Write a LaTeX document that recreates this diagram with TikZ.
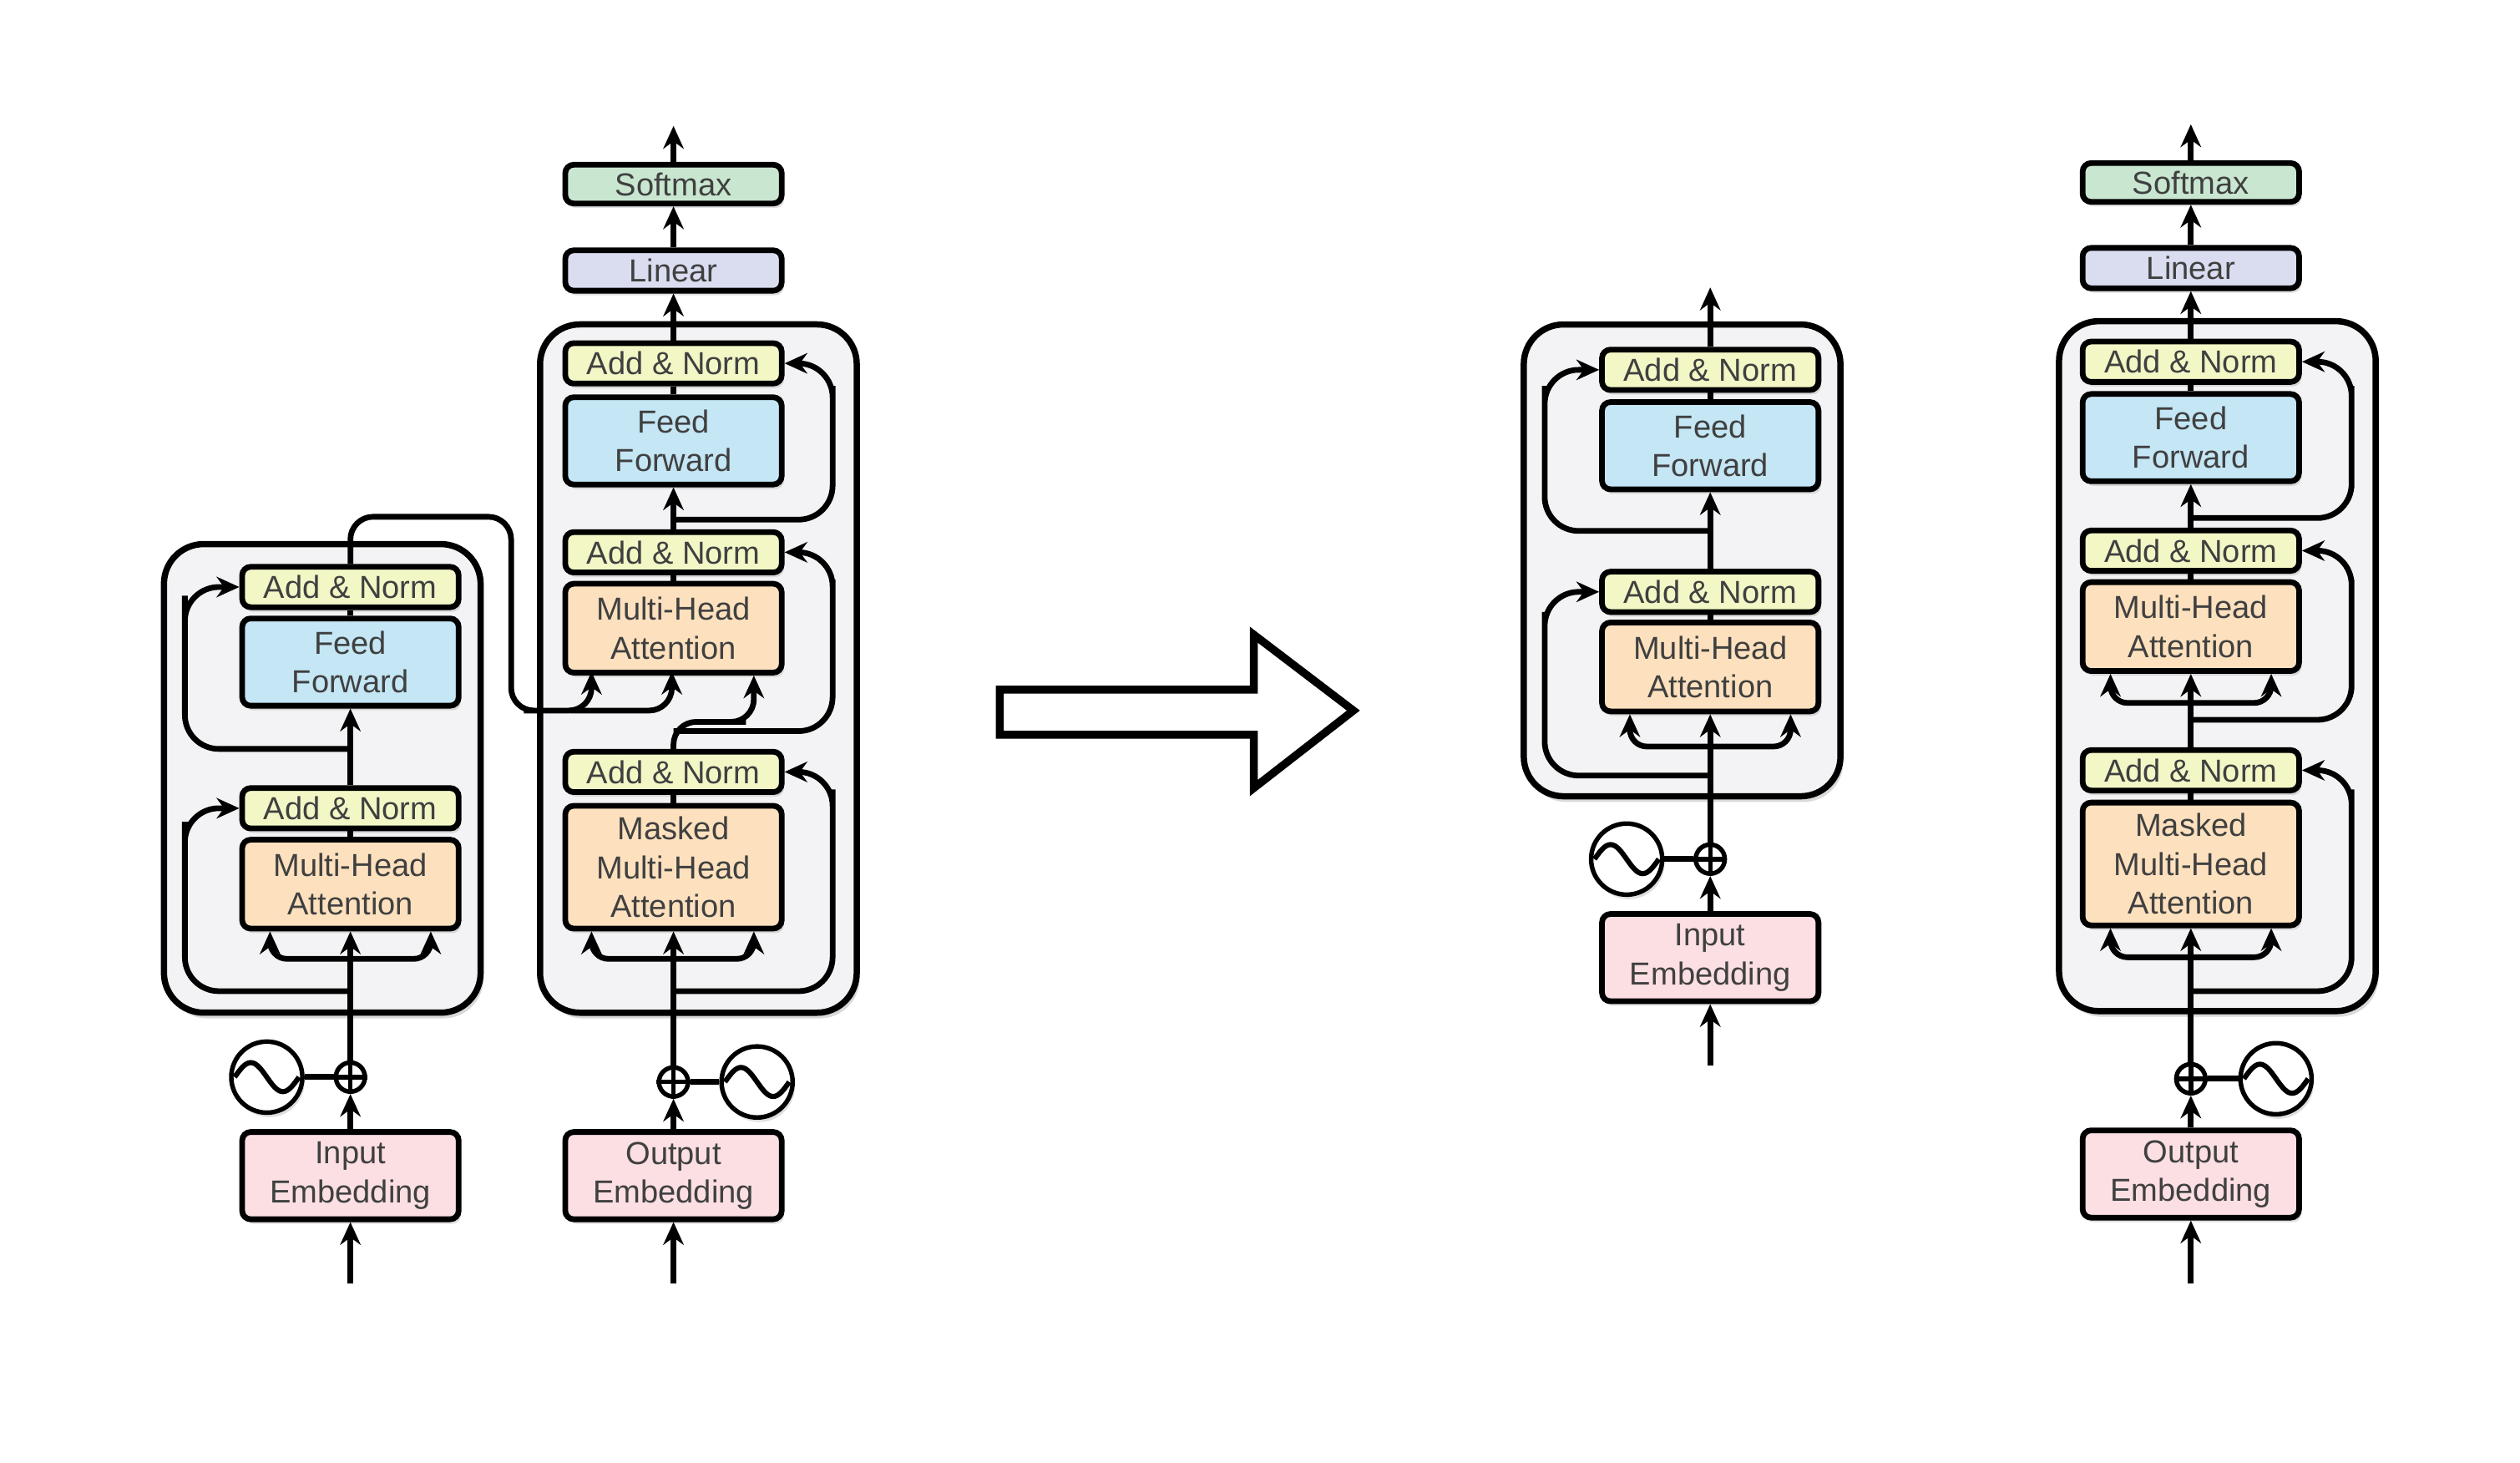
\documentclass[tikz,border=0pt]{standalone}
\usepackage{fontspec}
\setmainfont{Liberation Sans}
\usetikzlibrary{calc,positioning,shadows,arrows.meta}
\definecolor{addc}{HTML}{F3F7C6}
\definecolor{ffc}{HTML}{C4E6F5}
\definecolor{attc}{HTML}{FDE1BE}
\definecolor{embc}{HTML}{FBDFE3}
\definecolor{smc}{HTML}{C9E7D0}
\definecolor{linc}{HTML}{DADCF0}
\definecolor{stackc}{HTML}{F3F3F5}
\newcommand{\lbl}{\fontsize{5.6}{6.8}\selectfont}
\tikzset{
  blk/.style={draw, line width=1pt, rounded corners=1.5pt, minimum width=1.34cm,
    align=center, font=\lbl, text=black!75, inner sep=0pt,
    drop shadow={shadow xshift=0.4pt,shadow yshift=-0.8pt,opacity=0.25}},
  an/.style={blk, fill=addc, minimum height=0.25cm},
  ff/.style={blk, fill=ffc, minimum height=0.54cm},
  att/.style={blk, fill=attc, minimum height=0.55cm},
  matt/.style={blk, fill=attc, minimum height=0.76cm},
  emb/.style={blk, fill=embc, minimum height=0.54cm},
  soft/.style={blk, fill=smc, minimum height=0.24cm},
  lin/.style={blk, fill=linc, minimum height=0.25cm},
  stack/.style={draw, line width=1.1pt, rounded corners=7pt, fill=stackc,
    minimum width=1.96cm, drop shadow={shadow xshift=0.5pt,shadow yshift=-1pt,opacity=0.3}},
  plus/.style={circle, draw, line width=0.8pt, fill=white, minimum size=0.18cm, inner sep=0pt},
  wave/.style={circle, draw, line width=0.8pt, fill=white, minimum size=0.44cm, inner sep=0pt,
    drop shadow={shadow xshift=0.4pt,shadow yshift=-0.8pt,opacity=0.25}},
  arr/.style={line width=1pt, -{Stealth[length=4pt,width=3.6pt]}},
  ln/.style={line width=1pt},
}
\newcommand{\posenc}[2]{% plus node, wave node
  \draw[line width=0.8pt] (#1.north) -- (#1.south) (#1.west) -- (#1.east);
  \draw[line width=0.9pt] ($(#2.center)+(-20,0)$) sin ++(10,-9) cos ++(10,9) sin ++(10,9) cos ++(10,-9);
}
\begin{document}
\begin{tikzpicture}[x=0.00995cm, y=-0.01cm]
\useasboundingbox (0,0) rectangle (1567.8,905.6);

% stacks first
\node[stack, minimum height=2.9cm] (enc) at (200.5,482) {};
\node[stack, minimum height=4.26cm] (dec) at (434.5,414) {};
\node[stack, minimum height=2.92cm] (menc) at (1046.5,347) {};
\node[stack, minimum height=4.27cm] (rdec) at (1379.5,412.5) {};

% ---------------- encoder (left)
\node[an] (e-an2) at (218,363.5) {Add \& Norm};
\node[ff] (e-ff) at (218,410) {Feed\\Forward};
\node[an] (e-an1) at (218,500.5) {Add \& Norm};
\node[att] (e-mha) at (218,547.5) {Multi-Head\\Attention};
\node[emb] (e-in) at (218,728) {Input\\Embedding};
\node[wave] (e-sin) at (166,667) {};
\node[plus] (e-plus) at (218,667) {};
\coordinate (e-src) at (218,795);

\draw[arr] (e-src) -- (e-in);
\draw[arr] (e-in) -- (e-plus);
\draw[ln] (e-sin) -- (e-plus);
\posenc{e-plus}{e-sin}
\draw[arr] (e-plus) -- (e-mha);
\draw[arr, rounded corners=3pt] ($(e-mha.south)+(0,17)$) -| ($(e-mha.south)+(-50,0)$);
\draw[arr, rounded corners=3pt] ($(e-mha.south)+(0,17)$) -| ($(e-mha.south)+(50,0)$);
\draw[arr, rounded corners=6pt] ($(e-mha.south)+(0,37)$) -| (115,530) |- (e-an1.west);
\draw[ln] (e-mha) -- (e-an1);
\draw[arr] (e-an1) -- (e-ff);
\draw[arr, rounded corners=6pt] ($(e-ff.south)+(0,25)$) -| (115,390) |- (e-an2.west);
\draw[ln] (e-ff) -- (e-an2);

% ---------------- decoder (left)
\node[soft] (d-sm) at (419,114) {Softmax};
\node[lin] (d-lin) at (419,167.5) {Linear};
\node[an] (d-an3) at (419,225) {Add \& Norm};
\node[ff] (d-ff) at (419,273) {Feed\\Forward};
\node[an] (d-an2) at (419,342) {Add \& Norm};
\node[att] (d-mha) at (419,389) {Multi-Head\\Attention};
\node[an] (d-an1) at (419,478) {Add \& Norm};
\node[matt] (d-mmha) at (419,537) {Masked\\Multi-Head\\Attention};
\node[emb] (d-in) at (419,728) {Output\\Embedding};
\node[plus] (d-plus) at (419,670) {};
\node[wave] (d-sin) at (471,670) {};
\coordinate (d-src) at (419,795);
\coordinate (d-out) at (419,78);

% encoder output into decoder
\coordinate (e-turn) at (318,320);
\coordinate (d-k) at (368,416);
\coordinate (d-v) at (418,416);
\draw[arr, rounded corners=4pt] (e-an2.north) |- (e-turn) |- (340,440) -| (d-k);
\draw[arr, rounded corners=4pt] (355,440) -| (d-v);

\draw[arr] (d-src) -- (d-in);
\draw[arr] (d-in) -- (d-plus);
\draw[ln] (d-sin) -- (d-plus);
\posenc{d-plus}{d-sin}
\draw[arr] (d-plus) -- (d-mmha);
\draw[arr, rounded corners=3pt] ($(d-mmha.south)+(0,17)$) -| ($(d-mmha.south)+(-51,0)$);
\draw[arr, rounded corners=3pt] ($(d-mmha.south)+(0,17)$) -| ($(d-mmha.south)+(50,0)$);
\draw[arr, rounded corners=6pt] ($(d-mmha.south)+(0,37)$) -| (518,510) |- (d-an1.east);
\draw[ln] (d-mmha) -- (d-an1);
\draw[arr, rounded corners=4pt] (d-an1.north) |- (450,447) -| ($(d-mha.south)+(50,0)$);
\draw[arr, rounded corners=6pt] ($(d-an1.north)+(0,-11)$) -| (518,380) |- (d-an2.east);
\draw[ln] (d-mha) -- (d-an2);
\draw[arr] (d-an2) -- (d-ff);
\draw[arr, rounded corners=6pt] ($(d-ff.south)+(0,20)$) -| (518,260) |- (d-an3.east);
\draw[ln] (d-ff) -- (d-an3);
\draw[arr] (d-an3) -- (d-lin);
\draw[arr] (d-lin) -- (d-sm);
\draw[arr] (d-sm) -- (d-out);

% ---------------- big arrow
\draw[line width=1.4pt, fill=white] (622,427) -- (780,427) -- (780,393) -- (842,440)
  -- (780,488) -- (780,455) -- (622,455) -- cycle;

% ---------------- encoder-only (middle)
\node[an] (m-an2) at (1064,229) {Add \& Norm};
\node[ff] (m-ff) at (1064,276) {Feed\\Forward};
\node[an] (m-an1) at (1064,366.5) {Add \& Norm};
\node[att] (m-mha) at (1064,413) {Multi-Head\\Attention};
\node[emb] (m-in) at (1064,593) {Input\\Embedding};
\node[wave] (m-sin) at (1012,532) {};
\node[plus] (m-plus) at (1064,532) {};
\coordinate (m-src) at (1064,660);
\coordinate (m-out) at (1064,178);

\draw[arr] (m-src) -- (m-in);
\draw[arr] (m-in) -- (m-plus);
\draw[ln] (m-sin) -- (m-plus);
\posenc{m-plus}{m-sin}
\draw[arr] (m-plus) -- (m-mha);
\draw[arr, rounded corners=3pt] ($(m-mha.south)+(0,20)$) -| ($(m-mha.south)+(-50,0)$);
\draw[arr, rounded corners=3pt] ($(m-mha.south)+(0,20)$) -| ($(m-mha.south)+(50,0)$);
\draw[arr, rounded corners=6pt] ($(m-mha.south)+(0,38)$) -| (961,400) |- (m-an1.west);
\draw[ln] (m-mha) -- (m-an1);
\draw[arr] (m-an1) -- (m-ff);
\draw[arr, rounded corners=6pt] ($(m-ff.south)+(0,24)$) -| (961,260) |- (m-an2.west);
\draw[ln] (m-ff) -- (m-an2);
\draw[arr] (m-an2) -- (m-out);

% ---------------- decoder-only (right)
\node[soft] (r-sm) at (1363,113) {Softmax};
\node[lin] (r-lin) at (1363,166) {Linear};
\node[an] (r-an3) at (1363,224) {Add \& Norm};
\node[ff] (r-ff) at (1363,271) {Feed\\Forward};
\node[an] (r-an2) at (1363,341) {Add \& Norm};
\node[att] (r-mha) at (1363,388) {Multi-Head\\Attention};
\node[an] (r-an1) at (1363,477) {Add \& Norm};
\node[matt] (r-mmha) at (1363,535) {Masked\\Multi-Head\\Attention};
\node[emb] (r-in) at (1363,727) {Output\\Embedding};
\node[plus] (r-plus) at (1363,668) {};
\node[wave] (r-sin) at (1416,668) {};
\coordinate (r-src) at (1363,795);
\coordinate (r-out) at (1363,77);

\draw[arr] (r-src) -- (r-in);
\draw[arr] (r-in) -- (r-plus);
\draw[ln] (r-sin) -- (r-plus);
\posenc{r-plus}{r-sin}
\draw[arr] (r-plus) -- (r-mmha);
\draw[arr, rounded corners=3pt] ($(r-mmha.south)+(0,18)$) -| ($(r-mmha.south)+(-50,0)$);
\draw[arr, rounded corners=3pt] ($(r-mmha.south)+(0,18)$) -| ($(r-mmha.south)+(50,0)$);
\draw[arr, rounded corners=6pt] ($(r-mmha.south)+(0,39)$) -| (1463,510) |- (r-an1.east);
\draw[ln] (r-mmha) -- (r-an1);
\draw[arr] (r-an1) -- (r-mha);
\draw[arr, rounded corners=3pt] ($(r-mha.south)+(0,18)$) -| ($(r-mha.south)+(-50,0)$);
\draw[arr, rounded corners=3pt] ($(r-mha.south)+(0,18)$) -| ($(r-mha.south)+(50,0)$);
\draw[arr, rounded corners=6pt] ($(r-an1.north)+(0,-17)$) -| (1463,380) |- (r-an2.east);
\draw[ln] (r-mha) -- (r-an2);
\draw[arr] (r-an2) -- (r-ff);
\draw[arr, rounded corners=6pt] ($(r-ff.south)+(0,21)$) -| (1463,260) |- (r-an3.east);
\draw[ln] (r-ff) -- (r-an3);
\draw[arr] (r-an3) -- (r-lin);
\draw[arr] (r-lin) -- (r-sm);
\draw[arr] (r-sm) -- (r-out);
\end{tikzpicture}
\end{document}
